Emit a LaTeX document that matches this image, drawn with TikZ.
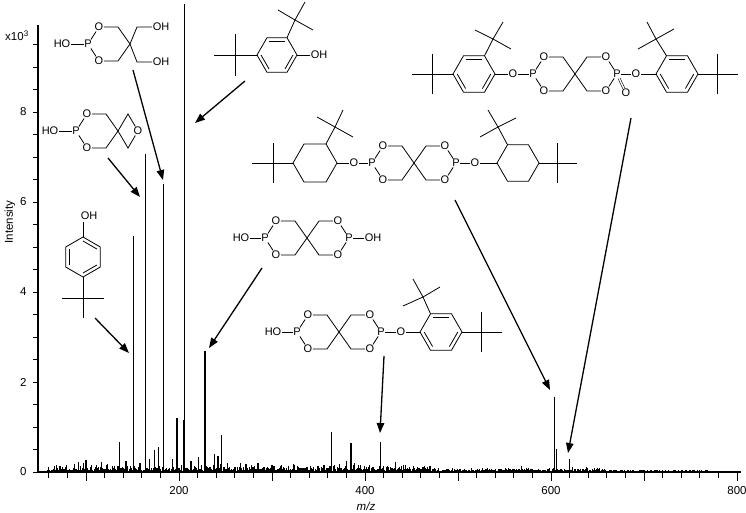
\documentclass[tikz,border=0pt]{standalone}
\usepackage{fontspec}
\setmainfont{Liberation Sans}
\usetikzlibrary{calc,arrows.meta}
\tikzset{
 atom/.style={inner sep=0.4pt,font=\fontsize{11}{11}\selectfont},
 bond/.style={line width=0.8pt},
 ptr/.style={line width=1.3pt,-{Triangle[length=10pt,width=7.5pt]}},
 ticklab/.style={font=\fontsize{11.5}{11.5}\selectfont},
 peak/.style={line width=1.3pt},
}
\newcommand\hexat[5]{% name cx cy r offset
 \coordinate (#1-c) at (#2,#3);
 \foreach \k in {1,...,6}{\coordinate (#1-\k) at ($(#2,#3)+({-(#5)-60*(\k-1)}:#4)$);}
 \draw[bond] (#1-1)--(#1-2)--(#1-3)--(#1-4)--(#1-5)--(#1-6)--cycle;}
\newcommand\dbl[3]{\draw[bond] ($(#1-#2)!0.2!(#1-c)$)--($(#1-#3)!0.2!(#1-c)$);}
\newcommand\arom[1]{\dbl{#1}{2}{3}\dbl{#1}{1}{6}\dbl{#1}{5}{4}}
\newcommand\tbu[5]{% attach, C, m1, m2, m3
 \draw[bond] (#1)--#2; \draw[bond] #2--#3; \draw[bond] #2--#4; \draw[bond] #2--#5;}
\newcommand\halfring[3]{% prefix x y : P, O, O, C, spiro, C
 \node[atom] (#1P) at (#2,#3) {P};
 \node[atom] (#1Oa) at ({#2+11},{#3-17}) {O};
 \node[atom] (#1Ob) at ({#2+11},{#3+17}) {O};
 \coordinate (#1c1) at ({#2+30},{#3-17});
 \coordinate (#1c2) at ({#2+30},{#3+17});
 \coordinate (#1S) at ({#2+42},#3);
 \draw[bond] (#1P)--(#1Oa)--(#1c1)--(#1S)--(#1c2)--(#1Ob)--(#1P);}
\newcommand\spiro[3]{%
 \halfring{#1}{#2}{#3}
 \coordinate (#1c3) at ({#2+54},{#3-17});
 \coordinate (#1c4) at ({#2+54},{#3+17});
 \node[atom] (#1Oc) at ({#2+73},{#3-17}) {O};
 \node[atom] (#1Od) at ({#2+73},{#3+17}) {O};
 \node[atom] (#1Q) at ({#2+84},#3) {P};
 \draw[bond] (#1S)--(#1c3)--(#1Oc)--(#1Q)--(#1Od)--(#1c4)--(#1S);}
\begin{document}
\begin{tikzpicture}[x=1pt,y=-1pt]
\useasboundingbox (0,0) rectangle (746,512);
% ---------- axes ----------
\foreach \v in {0,0.5,...,9.5}{\draw[line width=1pt] (33,{472-45*\v})--(38,{472-45*\v});}
\foreach \v in {0,2,4,6,8}{\node[ticklab,anchor=east] (yl\v) at (30,{472-45*\v}) {\v};}
\foreach \m in {60,80,...,800}{\draw[line width=1pt] ({179+(\m-200)*0.93},472)--({179+(\m-200)*0.93},478);}
\foreach \m in {100,200,...,800}{\draw[line width=1pt] ({179+(\m-200)*0.93},472)--({179+(\m-200)*0.93},481);}
\foreach \m in {200,400,600,800}{\node[ticklab] (xl\m) at ({179+(\m-200)*0.93},491) {\m};}
\node[ticklab] (xlab) at (366,506) {\textit{m/z}};
\node[ticklab,rotate=90] (ylab) at (10,222) {Intensity};
\node[ticklab] (mult) at (17,36) {x10\textsuperscript{3}};
% ---------- noise ----------
\pgfmathsetseed{7}
\foreach \m in {58,58.5,...,768}{
 \pgfmathsetmacro\h{(\m<470 ? 7 : (\m<660 ? 3.5 : 1.5))*rnd*rnd+1}
 \draw[line width=0.8pt] ({179+(\m-200)*0.93},472)--({179+(\m-200)*0.93},{472-\h});}
\draw[line width=1.6pt] (38,25)--(38,472)--(741,472);
% ---------- peaks ----------
\foreach \m/\i in {88/0.18,92/0.22,97/0.2,100/0.27,106/0.15,117/0.22,123/0.18,136/0.66,143/0.25,151/5.24,158/0.2,164/7.07,168/0.3,174/0.5,178/0.55,183/6.4,193/0.3,198/1.2,205/1.16,206/10.4,213/0.25,221/0.33,228/2.69,238/0.4,242/0.35,246/0.83,252/0.2,266/0.2,272/0.18,285/0.2,300/0.15,310/0.15,356/0.15,364/0.88,380/0.25,385/0.64,389/0.2,393/0.15,405/0.15,417/0.66,433/0.22,448/0.12,470/0.13,568/0.13,604/1.67,606/0.52,620/0.28,623/0.12,638/0.12,650/0.08}
 {\draw[peak] ({179+(\m-200)*0.93},472)--({179+(\m-200)*0.93},{472-45*\i});}
% ---------- A ----------
\halfring{a}{88}{44}
\node[atom] (aHO) at (62,44) {HO};
\draw[bond] (aHO)--(aP);
\coordinate (a3) at (137,27); \coordinate (a4) at (137,62);
\node[atom] (aOH1) at (161,27) {OH}; \node[atom] (aOH2) at (161,62) {OH};
\draw[bond] (aS)--(a3)--(aOH1); \draw[bond] (aS)--(a4)--(aOH2);
% ---------- B ----------
\halfring{b}{76}{131}
\node[atom] (bHO) at (50,131) {HO};
\draw[bond] (bHO)--(bP);
\coordinate (b3) at (128,114); \coordinate (b4) at (128,148);
\node[atom] (bOx) at (138,131) {O};
\draw[bond] (bS)--(b3)--(bOx)--(b4)--(bS);
% ---------- C ----------
\hexat{cr}{83}{257}{20}{30}
\dbl{cr}{2}{1}\dbl{cr}{6}{5}\dbl{cr}{4}{3}
\node[atom] (cOH) at (89,216) {OH};
\coordinate (cO) at (83,222);
\draw[bond] (cr-2)--(cO);
\tbu{cr-5}{(83,298)}{(62,298)}{(104,298)}{(83,318)}
% ---------- D ----------
\hexat{dr}{277}{55}{20}{0}
\arom{dr}
\node[atom] (dOH) at (319,55) {OH};
\draw[bond] (dr-1)--(dOH);
\tbu{dr-2}{(295,20)}{(278,10)}{(313,30)}{(305,2)}
\tbu{dr-4}{(235,55)}{(214,55)}{(235,34)}{(235,76)}
% ---------- E ----------
\hexat{el}{474}{74}{21}{0}
\arom{el}
\tbu{el-2}{(493,39)}{(475,30)}{(511,49)}{(503,22)}
\tbu{el-4}{(432,74)}{(412,74)}{(432,54)}{(432,94)}
\spiro{e}{533}{74}
\node[atom] (eO1) at (513,74) {O};
\draw[bond] (el-1)--(eO1)--(eP);
\node[atom] (eOd) at (626,93) {O};
\draw[line width=0.6pt,double,double distance=1.4pt] (eQ)--(eOd);
\node[atom] (eO2) at (636,74) {O};
\hexat{er}{677}{74}{21}{0}
\dbl{er}{2}{3}\dbl{er}{1}{6}\dbl{er}{5}{4}
\draw[bond] (eQ)--(eO2)--(er-4);
\tbu{er-3}{(656,39)}{(638,49)}{(674,29)}{(647,22)}
\tbu{er-1}{(717,74)}{(738,74)}{(717,54)}{(717,94)}
% ---------- F ----------
\hexat{fl}{315}{163}{22}{0}
\tbu{fl-4}{(273,163)}{(252,163)}{(273,143)}{(273,183)}
\tbu{fl-2}{(335,127)}{(317,117)}{(353,137)}{(343,110)}
\spiro{f}{372}{163}
\node[atom] (fO1) at (354,163) {O};
\draw[bond] (fl-1)--(fO1)--(fP);
\node[atom] (fO2) at (475,163) {O};
\hexat{fr}{518}{163}{21}{0}
\draw[bond] (fQ)--(fO2)--(fr-4);
\tbu{fr-3}{(498,127)}{(480,137)}{(516,118)}{(488,110)}
\tbu{fr-1}{(557,163)}{(577,163)}{(557,143)}{(557,183)}
% ---------- G ----------
\spiro{g}{265}{238}
\node[atom] (gHO) at (241,238) {HO};
\node[atom] (gOH) at (373,238) {OH};
\draw[bond] (gHO)--(gP); \draw[bond] (gQ)--(gOH);
% ---------- H ----------
\spiro{h}{297}{332}
\node[atom] (hHO) at (273,332) {HO};
\draw[bond] (hHO)--(hP);
\node[atom] (hO) at (401,332) {O};
\hexat{hr}{441}{332}{21}{0}
\arom{hr}
\draw[bond] (hQ)--(hO)--(hr-4);
\tbu{hr-3}{(423,297)}{(403,306)}{(440,287)}{(413,279)}
\tbu{hr-1}{(481,332)}{(502,332)}{(481,312)}{(481,352)}
% ---------- arrows ----------
\coordinate (pa0) at (133,70);  \coordinate (pa1) at (163,180);
\coordinate (pb0) at (108,158); \coordinate (pb1) at (140,197);
\coordinate (pd0) at (245,81);  \coordinate (pd1) at (195,123);
\coordinate (pc0) at (95,318);  \coordinate (pc1) at (129,353);
\coordinate (pg0) at (262,268); \coordinate (pg1) at (209,348);
\coordinate (ph0) at (384,356); \coordinate (ph1) at (380,433);
\coordinate (pf0) at (455,200); \coordinate (pf1) at (550,390);
\coordinate (pe0) at (631,118); \coordinate (pe1) at (568,453);
\foreach \p in {a,b,d,c,g,h,f,e}{\draw[ptr] (p\p0)--(p\p1);}
\end{tikzpicture}
\end{document}
